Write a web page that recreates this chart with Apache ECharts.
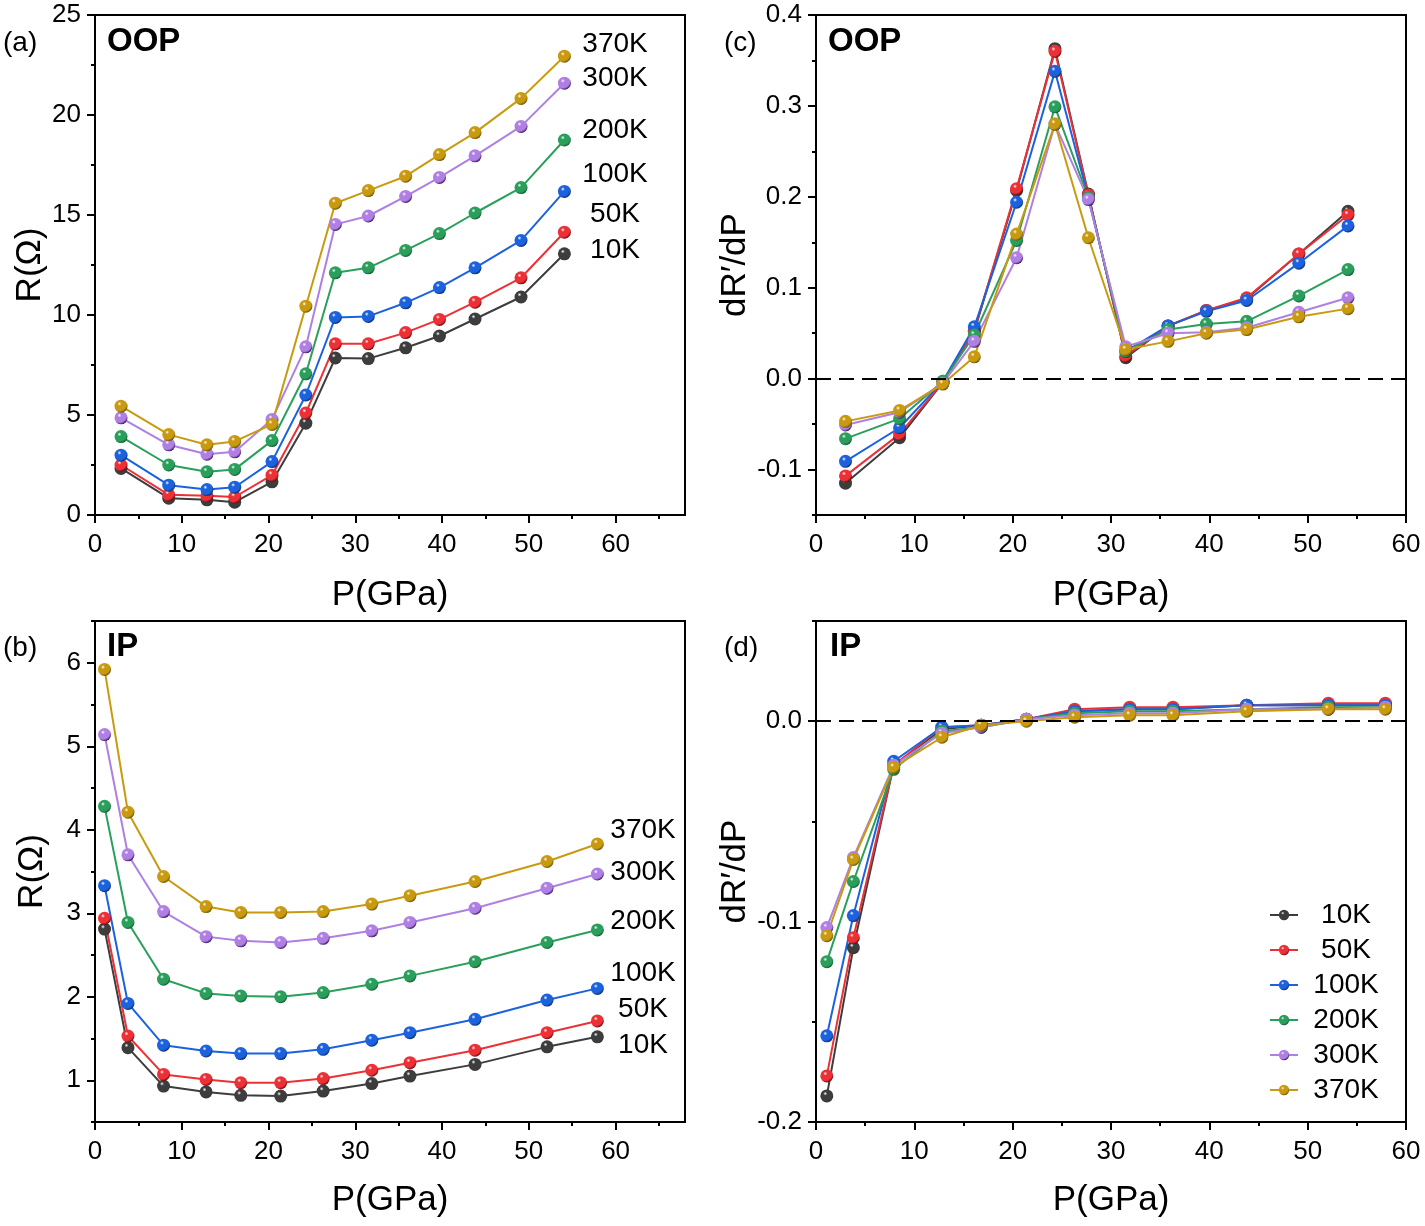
<!DOCTYPE html>
<html>
<head>
<meta charset="utf-8">
<title>R and dR'/dP vs P</title>
<script src="https://cdn.jsdelivr.net/npm/echarts@6/dist/echarts.min.js"></script>
<style>
  html, body { margin: 0; padding: 0; background: #fff; }
  #chart { width: 1425px; height: 1226px; }
</style>
</head>
<body>
<div id="chart"></div>
<script>
// temperatures / series
const temps = ["10K", "50K", "100K", "200K", "300K", "370K"];
const colors = ["#3d3d3d", "#ec3036", "#1c62de", "#2a9f5b", "#b07fe4", "#c99a10"];

// pressure points (GPa)
const pOOP = [3.0, 8.5, 12.9, 16.1, 20.4, 24.3, 27.7, 31.5, 35.8, 39.7, 43.8, 49.1, 54.1];
const pIP = [1.1, 3.8, 7.9, 12.8, 16.8, 21.4, 26.3, 31.9, 36.3, 43.8, 52.1, 57.9];

// (a) OOP resistance
const rOOP10 = [2.33, 0.84, 0.76, 0.64, 1.66, 4.59, 7.85, 7.82, 8.36, 8.95, 9.80, 10.90, 13.06];
const rOOP50 = [2.50, 1.01, 0.96, 0.90, 1.99, 5.10, 8.56, 8.56, 9.12, 9.78, 10.64, 11.86, 14.14];
const rOOP100 = [2.99, 1.49, 1.27, 1.39, 2.67, 6.00, 9.88, 9.93, 10.61, 11.37, 12.36, 13.73, 16.18];
const rOOP200 = [3.92, 2.50, 2.16, 2.28, 3.72, 7.06, 12.11, 12.36, 13.23, 14.07, 15.10, 16.37, 18.75];
const rOOP300 = [4.86, 3.51, 3.04, 3.16, 4.78, 8.41, 14.53, 14.95, 15.93, 16.88, 17.96, 19.43, 21.59];
const rOOP370 = [5.44, 4.02, 3.51, 3.68, 4.53, 10.44, 15.59, 16.22, 16.94, 18.02, 19.12, 20.83, 22.94];

// (c) OOP dR'/dP
const dOOP10 = [-0.115, -0.065, -0.004, 0.052, 0.207, 0.363, 0.203, 0.023, 0.058, 0.075, 0.088, 0.137, 0.184];
const dOOP50 = [-0.107, -0.061, -0.004, 0.053, 0.209, 0.360, 0.202, 0.025, 0.058, 0.075, 0.089, 0.137, 0.180];
const dOOP100 = [-0.091, -0.054, -0.003, 0.057, 0.194, 0.338, 0.199, 0.030, 0.058, 0.074, 0.086, 0.127, 0.168];
const dOOP200 = [-0.066, -0.044, -0.003, 0.048, 0.152, 0.299, 0.199, 0.030, 0.054, 0.060, 0.063, 0.091, 0.120];
const dOOP300 = [-0.051, -0.037, -0.005, 0.041, 0.133, 0.280, 0.197, 0.035, 0.050, 0.051, 0.056, 0.073, 0.089];
const dOOP370 = [-0.047, -0.035, -0.006, 0.024, 0.159, 0.280, 0.155, 0.032, 0.041, 0.050, 0.054, 0.068, 0.077];

// (b) IP resistance
const rIP10 = [2.81, 1.39, 0.93, 0.86, 0.82, 0.81, 0.87, 0.96, 1.05, 1.19, 1.40, 1.52];
const rIP50 = [2.94, 1.53, 1.07, 1.01, 0.97, 0.97, 1.02, 1.12, 1.21, 1.36, 1.57, 1.71];
const rIP100 = [3.33, 1.92, 1.42, 1.35, 1.32, 1.32, 1.37, 1.48, 1.57, 1.73, 1.96, 2.10];
const rIP200 = [4.28, 2.89, 2.21, 2.04, 2.01, 2.00, 2.05, 2.15, 2.25, 2.42, 2.65, 2.80];
const rIP300 = [5.14, 3.70, 3.02, 2.72, 2.67, 2.65, 2.70, 2.79, 2.89, 3.06, 3.30, 3.47];
const rIP370 = [5.92, 4.21, 3.44, 3.08, 3.01, 3.01, 3.02, 3.11, 3.21, 3.38, 3.62, 3.83];

// (d) IP dR'/dP
const dIP10 = [-0.187, -0.113, -0.022, -0.004, -0.002, 0.001, 0.005, 0.006, 0.006, 0.008, 0.008, 0.008];
const dIP50 = [-0.177, -0.108, -0.022, -0.003, -0.002, 0.001, 0.006, 0.007, 0.007, 0.008, 0.009, 0.009];
const dIP100 = [-0.157, -0.097, -0.020, -0.003, -0.002, 0.001, 0.005, 0.006, 0.006, 0.008, 0.008, 0.008];
const dIP200 = [-0.120, -0.080, -0.024, -0.005, -0.003, 0.001, 0.004, 0.005, 0.005, 0.006, 0.007, 0.007];
const dIP300 = [-0.103, -0.068, -0.022, -0.006, -0.003, 0.001, 0.003, 0.004, 0.004, 0.006, 0.006, 0.007];
const dIP370 = [-0.107, -0.069, -0.023, -0.008, -0.002, 0.000, 0.002, 0.003, 0.003, 0.005, 0.006, 0.006];

// tick values
const xTicksA = [0, 10, 20, 30, 40, 50, 60];
const xMinorA = [5, 15, 25, 35, 45, 55, 65];
const xMinorC = [5, 15, 25, 35, 45, 55];
const yTicksA = [0, 5, 10, 15, 20, 25];
const yMinorA = [2.5, 7.5, 12.5, 17.5, 22.5];
const yTicksB = [1, 2, 3, 4, 5, 6];
const yMinorB = [0.5, 1.5, 2.5, 3.5, 4.5, 5.5, 6.5];
const yTicksC = [-0.1, 0, 0.1, 0.2, 0.3, 0.4];
const yMinorC = [-0.15, -0.05, 0.05, 0.15, 0.25, 0.35];
const yTicksD = [-0.2, -0.1, 0];
const yMinorD = [-0.15, -0.05, 0.05];

const FONT = "'Liberation Sans', Arial, sans-serif";

let chart = echarts.init(document.getElementById("chart"));

function ball(c) {
  return new echarts.graphic.RadialGradient(0.38, 0.32, 0.7, [
    { offset: 0, color: "#ffffff" },
    { offset: 0.22, color: c },
    { offset: 0.75, color: c },
    { offset: 1, color: echarts.color.modifyHSL(c, null, null, 0.22) },
  ]);
}

// main axis (line, labels, major ticks) + overlay axis carrying only minor ticks
function axisPair(kind, grid, min, max, majors, minors, fmt, name, gap) {
  let main = {
    type: "value",
    gridIndex: grid,
    min: min,
    max: max,
    name: name,
    nameLocation: "middle",
    nameGap: gap,
    nameTextStyle: { fontFamily: FONT, fontSize: 35, color: "#000" },
    axisLine: { show: true, onZero: false, lineStyle: { color: "#000", width: 2 } },
    axisTick: { show: true, customValues: majors, length: 8, lineStyle: { color: "#000", width: 2 } },
    axisLabel: {
      customValues: majors,
      formatter: fmt,
      fontFamily: FONT,
      fontSize: 26,
      color: "#000",
      margin: kind === "x" ? 17 : 14,
    },
    splitLine: { show: false },
  };
  let minor = {
    type: "value",
    gridIndex: grid,
    min: min,
    max: max,
    axisLine: { show: false, onZero: false },
    axisTick: { show: true, customValues: minors, length: 4, lineStyle: { color: "#000", width: 2 } },
    axisLabel: { show: false },
    splitLine: { show: false },
  };
  if (kind === "x") { main.position = "bottom"; minor.position = "bottom"; }
  else { main.position = "left"; minor.position = "left"; }
  return [main, minor];
}

const intFmt = (v) => String(Math.round(v));
const decFmt = (v) => (Math.abs(v) < 1e-9 ? "0.0" : v.toFixed(1));

let grids = [
  { left: 95, top: 15, width: 590, height: 500 },
  { left: 816, top: 15, width: 590, height: 500 },
  { left: 95, top: 621, width: 590, height: 501 },
  { left: 816, top: 621, width: 590, height: 501 },
].map((g) => Object.assign({ show: true, borderColor: "#000", borderWidth: 2, backgroundColor: "transparent" }, g));

let xa = axisPair("x", 0, 0, 68, xTicksA, xMinorA, intFmt, "P(GPa)", 63);
let xc = axisPair("x", 1, 0, 60, xTicksA, xMinorC, intFmt, "P(GPa)", 63);
let xb = axisPair("x", 2, 0, 68, xTicksA, xMinorA, intFmt, "P(GPa)", 61);
let xd = axisPair("x", 3, 0, 60, xTicksA, xMinorC, intFmt, "P(GPa)", 61);
let ya = axisPair("y", 0, 0, 25, yTicksA, yMinorA, intFmt, "R(Ω)", 45);
let yc = axisPair("y", 1, -0.15, 0.4, yTicksC, yMinorC, decFmt, "dR′/dP", 57);
let yb = axisPair("y", 2, 0.5, 6.5, yTicksB, yMinorB, intFmt, "R(Ω)", 45);
let yd = axisPair("y", 3, -0.2, 0.05, yTicksD, yMinorD, decFmt, "dR′/dP", 57);

let xAxis = [xa[0], xc[0], xb[0], xd[0], xa[1], xc[1], xb[1], xd[1]];
let yAxis = [ya[0], yc[0], yb[0], yd[0], ya[1], yc[1], yb[1], yd[1]];

const panels = [
  { p: pOOP, sets: [rOOP10, rOOP50, rOOP100, rOOP200, rOOP300, rOOP370], zero: false },
  { p: pOOP, sets: [dOOP10, dOOP50, dOOP100, dOOP200, dOOP300, dOOP370], zero: true },
  { p: pIP, sets: [rIP10, rIP50, rIP100, rIP200, rIP300, rIP370], zero: false },
  { p: pIP, sets: [dIP10, dIP50, dIP100, dIP200, dIP300, dIP370], zero: true },
];

let series = [];
panels.forEach((pan, gi) => {
  if (pan.zero) {
    series.push({
      type: "line",
      xAxisIndex: gi,
      yAxisIndex: gi,
      data: [],
      silent: true,
      markLine: {
        silent: true,
        symbol: "none",
        label: { show: false },
        lineStyle: { color: "#000", type: [15, 8], width: 2 },
        data: [{ yAxis: 0 }],
      },
    });
  }
  pan.sets.forEach((vals, si) => {
    series.push({
      name: temps[si],
      type: "line",
      xAxisIndex: gi,
      yAxisIndex: gi,
      data: pan.p.map((x, i) => [x, vals[i]]),
      symbol: "circle",
      symbolSize: 13,
      showAllSymbol: true,
      lineStyle: { color: colors[si], width: 2 },
      itemStyle: { color: ball(colors[si]) },
      emphasis: { disabled: true },
    });
  });
});

function txt(x, y, text, size, weight, align) {
  return {
    type: "text",
    style: {
      x: x,
      y: y,
      text: text,
      font: (weight || "normal") + " " + size + "px " + FONT,
      fill: "#000",
      textAlign: align || "left",
      textVerticalAlign: "middle",
    },
  };
}

let graphics = [
  txt(3, 43, "(a)", 28), txt(107, 42, "OOP", 33, "bold"),
  txt(724, 43, "(c)", 28), txt(828, 42, "OOP", 33, "bold"),
  txt(3, 648, "(b)", 28), txt(107, 647, "IP", 33, "bold"),
  txt(724, 648, "(d)", 28), txt(830, 647, "IP", 33, "bold"),
];
// temperature tags in (a) and (b), top to bottom: 370K ... 10K
const tagYA = [44, 78, 130, 174, 214, 250];
const tagYB = [830, 872, 921, 973, 1009, 1045];
const tagOrder = ["370K", "300K", "200K", "100K", "50K", "10K"];
tagOrder.forEach((t, i) => {
  graphics.push(txt(615, tagYA[i], t, 28, "normal", "center"));
  graphics.push(txt(643, tagYB[i], t, 28, "normal", "center"));
});

let option = {
  animation: false,
  backgroundColor: "#fff",
  textStyle: { fontFamily: FONT },
  grid: grids,
  xAxis: xAxis,
  yAxis: yAxis,
  legend: {
    data: temps,
    orient: "vertical",
    left: 1264,
    top: 896,
    itemWidth: 28,
    itemHeight: 13,
    itemGap: 7,
    formatter: "{t|{name}}",
    textStyle: {
      rich: { t: { width: 86, align: "center", fontSize: 28, fontFamily: FONT, color: "#000" } },
    },
  },
  graphic: graphics,
  series: series,
};

option && chart.setOption(option);
window.addEventListener("resize", function () {
  chart.resize();
});
</script>
</body>
</html>
